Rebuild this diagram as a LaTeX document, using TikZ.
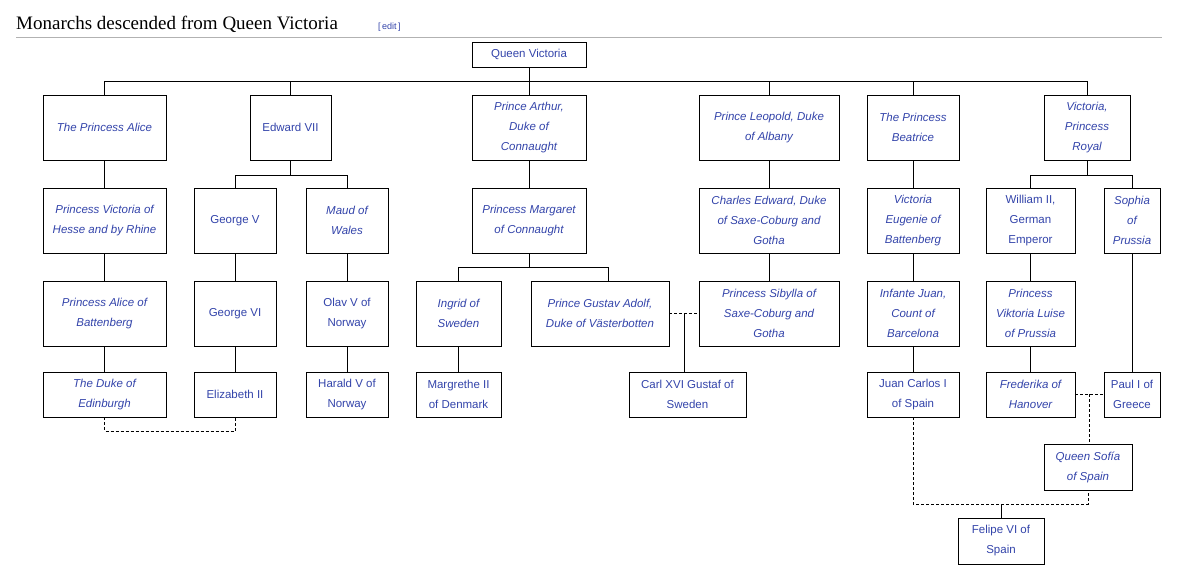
\documentclass[tikz,border=0pt]{standalone}
\usepackage{fontspec}
\setmainfont{Liberation Sans}
\newfontfamily\titlefont{Liberation Serif}
\definecolor{lk}{HTML}{3344AA}
\tikzset{box/.style={draw,line width=0.9pt,inner sep=0pt,align=center,text=lk,font=\fontsize{11.5}{20}\selectfont},
 it/.style={font=\fontsize{11.5}{20}\selectfont\itshape},
 ln/.style={line width=0.9pt},
 dl/.style={line width=0.9pt,dash pattern=on 3pt off 2pt}}
\newcommand\bx[7]{\node[box,#6,minimum width={#4-#2},minimum height={#5-#3}] (#1) at ({(#2+#4)/2},{(#3+#5)/2}) {#7};}
\begin{document}
\begin{tikzpicture}[x=1pt,y=-1pt]
\useasboundingbox (0,0) rectangle (1193,577);
\fill[white] (0,0) rectangle (1193,577);
\node[anchor=base west,inner sep=0pt,font=\titlefont\fontsize{19}{20}\selectfont] (title) at (16,30) {Monarchs descended from Queen Victoria};
\node[anchor=base west,inner sep=0pt,text=lk,font=\fontsize{9}{10}\selectfont] (edit) at (378,30) {[\,edit\,]};
\draw[gray!60,line width=0.8pt] (16,37) -- (1162,37);
% row 0
\bx{qv}{472}{42}{586}{67}{}{Queen Victoria}
% row 1
\bx{alice}{43}{95}{166}{160}{it}{The Princess Alice}
\bx{e7}{250}{95}{331}{160}{}{Edward VII}
\bx{arthur}{472}{95}{586}{160}{it}{Prince Arthur,\\Duke of\\Connaught}
\bx{leo}{699}{95}{839}{160}{it}{Prince Leopold, Duke\\of Albany}
\bx{bea}{867}{95}{959}{160}{it}{The Princess\\Beatrice}
\bx{vpr}{1044}{95}{1130}{160}{it}{Victoria,\\Princess\\Royal}
% row 2
\bx{hesse}{43}{188}{166}{253}{it}{Princess Victoria of\\Hesse and by Rhine}
\bx{g5}{194}{188}{276}{253}{}{George V}
\bx{maud}{306}{188}{388}{253}{it}{Maud of\\Wales}
\bx{marg}{472}{188}{586}{253}{it}{Princess Margaret\\of Connaught}
\bx{charles}{699}{188}{839}{253}{it}{Charles Edward, Duke\\of Saxe-Coburg and\\Gotha}
\bx{ena}{867}{188}{959}{253}{it}{Victoria\\Eugenie of\\Battenberg}
\bx{w2}{986}{188}{1075}{253}{}{William II,\\German\\Emperor}
\bx{sophia}{1104}{188}{1160}{253}{it}{Sophia\\of\\Prussia}
% row 3
\bx{aliceb}{43}{281}{166}{346}{it}{Princess Alice of\\Battenberg}
\bx{g6}{194}{281}{276}{346}{}{George VI}
\bx{olav}{306}{281}{388}{346}{}{Olav V of\\Norway}
\bx{ingrid}{416}{281}{501}{346}{it}{Ingrid of\\Sweden}
\bx{gustav}{531}{281}{669}{346}{it}{Prince Gustav Adolf,\\Duke of Västerbotten}
\bx{sib}{699}{281}{839}{346}{it}{Princess Sibylla of\\Saxe-Coburg and\\Gotha}
\bx{juan}{867}{281}{959}{346}{it}{Infante Juan,\\Count of\\Barcelona}
\bx{vl}{986}{281}{1075}{346}{it}{Princess\\Viktoria Luise\\of Prussia}
% row 4
\bx{duke}{43}{372}{166}{417}{it}{The Duke of\\Edinburgh}
\bx{eliz}{194}{372}{276}{417}{}{Elizabeth II}
\bx{harald}{306}{372}{388}{417}{}{Harald V of\\Norway}
\bx{margr}{416}{372}{501}{417}{}{Margrethe II\\of Denmark}
\bx{carl}{629}{372}{746}{417}{}{Carl XVI Gustaf of\\Sweden}
\bx{jc}{867}{372}{959}{417}{}{Juan Carlos I\\of Spain}
\bx{fred}{986}{372}{1075}{417}{it}{Frederika of\\Hanover}
\bx{paul}{1104}{372}{1160}{417}{}{Paul I of\\Greece}
\bx{sofia}{1044}{444}{1132}{490}{it}{Queen Sofía\\of Spain}
\bx{felipe}{958}{518}{1044}{564}{}{Felipe VI of\\Spain}
% bars
\coordinate (b1) at (0,81);
\coordinate (b2) at (0,175);
\coordinate (b3) at (0,267);
\coordinate (gtop) at (608,281);
\coordinate (cj) at (684,314);
\coordinate (fj) at (1089,394);
\coordinate (sj) at (1001,504);
\draw[ln] (qv.south) -- (qv.south|-b1);
\draw[ln] (alice.north) -- (alice.north|-b1) -- (vpr.north|-b1) -- (vpr.north);
\foreach \n in {e7,arthur,leo,bea} \draw[ln] (\n.north) -- (\n.north|-b1);
\draw[ln] (alice.south) -- (hesse.north) (hesse.south) -- (aliceb.north) (aliceb.south) -- (duke.north);
\draw[ln] (e7.south) -- (e7.south|-b2);
\draw[ln] (g5.north) -- (g5.north|-b2) -- (maud.north|-b2) -- (maud.north);
\draw[ln] (g5.south) -- (g6.north) (g6.south) -- (eliz.north);
\draw[ln] (maud.south) -- (olav.north) (olav.south) -- (harald.north);
\draw[ln] (arthur.south) -- (marg.north) (marg.south) -- (marg.south|-b3);
\draw[ln] (ingrid.north) -- (ingrid.north|-b3) -- (gtop|-b3) -- (gtop);
\draw[ln] (ingrid.south) -- (margr.north);
\draw[ln] (leo.south) -- (charles.north) (charles.south) -- (sib.north);
\draw[dl] (gustav.east) -- (sib.west);
\draw[ln] (cj) -- (cj|-carl.north);
\draw[ln] (bea.south) -- (ena.north) (ena.south) -- (juan.north) (juan.south) -- (jc.north);
\draw[ln] (vpr.south) -- (vpr.south|-b2);
\draw[ln] (w2.north) -- (w2.north|-b2) -- (sophia.north|-b2) -- (sophia.north);
\draw[ln] (w2.south) -- (vl.north) (vl.south) -- (fred.north);
\draw[ln] (sophia.south) -- (paul.north);
\draw[dl] (duke.south) -- ++(0,14) -| (eliz.south);
\draw[dl] (fred.east) -- (paul.west);
\draw[dl] (fj) -- (fj|-sofia.north);
\draw[dl] (jc.south) |- (sofia.south|-sj) -- (sofia.south);
\draw[ln] (sj) -- (felipe.north);
\end{tikzpicture}
\end{document}
